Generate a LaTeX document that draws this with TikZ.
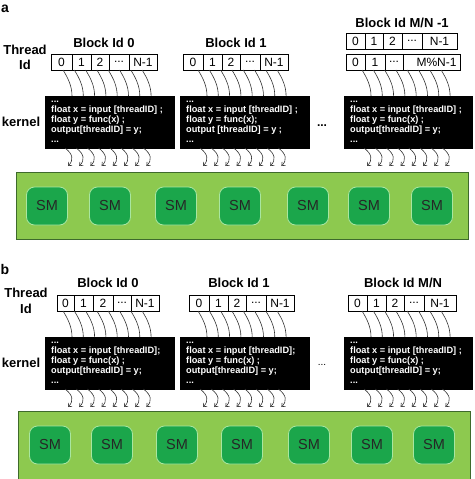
\documentclass[tikz,border=0pt]{standalone}
\usepackage{fontspec}
\setmainfont{Liberation Sans}
\usetikzlibrary{arrows.meta,calc}
\definecolor{busfill}{HTML}{8DC94F}
\definecolor{busdraw}{HTML}{3E6A2C}
\definecolor{smfill}{HTML}{1BA64B}
\definecolor{smdraw}{HTML}{A8E6A0}
\definecolor{wirec}{HTML}{333333}
\tikzset{
  cell/.style={draw=black, line width=0.8pt, inner sep=0pt, outer sep=0pt, minimum height=16pt, anchor=north west, font=\fontsize{12}{13}\selectfont},
  kernelbox/.style={fill=black, draw=black, inner sep=0pt, outer sep=0pt, minimum width=129pt, minimum height=52pt, anchor=north west},
  codetext/.style={text=white, font=\fontsize{9.2}{10}\selectfont\bfseries, align=left, inner sep=0pt, anchor=west},
  titletext/.style={font=\fontsize{13}{14}\selectfont\bfseries, inner sep=0pt},
  paneltext/.style={font=\fontsize{14}{16}\selectfont\bfseries, inner sep=0pt},
  smbox/.style={fill=smfill, draw=smdraw, line width=0.8pt, rounded corners=8pt, minimum width=41pt, minimum height=38pt, inner sep=0pt, font=\fontsize{14.5}{16}\selectfont, text=black!85},
  bus/.style={fill=busfill, draw=busdraw, line width=1pt, anchor=north west, inner sep=0pt, minimum width=452pt},
  wire/.style={draw=wirec, line width=0.6pt},
  wirearrow/.style={wire, -{Straight Barb[length=3pt,width=5pt]}}
}
\newcommand\fivecells[8]{% name, x, y, w0..w4
  \node[cell, minimum width=#4pt] (#1c0) at (#2,#3) {0};
  \node[cell, minimum width=#5pt] (#1c1) at (#1c0.north east) {1};
  \node[cell, minimum width=#6pt] (#1c2) at (#1c1.north east) {2};
  \node[cell, minimum width=#7pt] (#1c3) at (#1c2.north east) {...};
  \node[cell, minimum width=#8pt] (#1c4) at (#1c3.north east) {N-1};
}
\newcommand\kernelnode[5]{% name, x, y, width, code
  \node[kernelbox, minimum width=#4pt] (#1) at (#2,#3) {};
  \node[codetext] (#1code) at ($(#1.west)+(6,0)$) {#5};
}
\newcommand\wires[6]{% prefix, kernel left x, top y, kernel top y, kernel bottom y, tip y
  \foreach \i in {0,...,7}{
    \pgfmathsetmacro\xa{#2+18+11.3*\i}
    \pgfmathsetmacro\xb{#2+20+11.2*\i}
    \coordinate (#1s\i) at (\xa,#3);
    \coordinate (#1e\i) at (\xa+9,#4);
    \coordinate (#1b\i) at (\xb,#5);
    \coordinate (#1p\i) at (\xb+3,#6);
    \draw[wire] (#1s\i) .. controls +(5,8) and +(0,-10) .. (#1e\i);
    \draw[wirearrow] (#1b\i) .. controls +(8,6) and +(6,-6) .. (#1p\i);
  }
}
\begin{document}
\begin{tikzpicture}[x=1pt,y=-1pt]
\useasboundingbox (0,0) rectangle (474,479);
\begin{scope}
\clip (0,0) rectangle (474,479);
% ---------------- panel a ----------------
\node[paneltext] (la) at (5,9) {a};
\node[titletext] (tha) at (25,50) {Thread};
\node[titletext] (ida) at (25,65) {Id};
\node[titletext] (kea) at (21,122) {kernel};

\node[titletext] (ba0) at (104,43) {Block Id 0};
\node[titletext] (ba1) at (236,43) {Block Id 1};
\node[titletext] (ba2) at (402,23) {Block Id M/N -1};

\fivecells{ta0}{51}{54}{21}{19}{18}{20}{28}
\fivecells{ta1}{183}{54}{20}{19}{18}{20}{28}
\fivecells{ta2}{346}{33}{19}{18}{19}{20}{35}
\node[cell, minimum width=19pt] (tb2c0) at (346,54) {0};
\node[cell, minimum width=20pt] (tb2c1) at (tb2c0.north east) {1};
\node[cell, minimum width=18pt] (tb2c2) at (tb2c1.north east) {...};
\node[cell, minimum width=57pt] (tb2c3) at (tb2c2.north east) {\hspace*{10pt}M\%N-1};

\kernelnode{ka0}{45}{96}{129}{...\\float x = input [threadID] ;\\float y = func(x) ;\\output[threadID] = y;\\...}
\kernelnode{ka1}{180}{96}{129}{...\\float x = input [threadID] ;\\float y = func(x);\\output [threadID] = y ;\\...}
\kernelnode{ka2}{344}{96}{128}{...\\float x = input [threadID] ;\\float y = func(x) ;\\output[threadID] = y;\\...}
\node[font=\fontsize{12}{14}\selectfont\bfseries] (dotsa) at (322,126) {...};

\wires{wa0}{45}{70}{96}{148}{166}
\wires{wa1}{180}{70}{96}{148}{166}
\wires{wa2}{344}{70}{96}{148}{166}

\node[bus, minimum height=67pt] (busa) at (16,172) {};
\foreach \x [count=\k] in {47,110,176,240,308,369,432}{
  \node[smbox] (sma\k) at (\x,206) {SM};
}

% ---------------- panel b ----------------
\node[paneltext] (lb) at (5,269) {b};
\node[titletext] (thb) at (26,293) {Thread};
\node[titletext] (idb) at (26,309) {Id};
\node[titletext] (keb) at (21,363) {kernel};

\node[titletext] (bb0) at (108,283) {Block Id 0};
\node[titletext] (bb1) at (239,283) {Block Id 1};
\node[titletext] (bb2) at (403,283) {Block Id M/N};

\fivecells{tc0}{57}{295}{17}{19}{20}{18}{28}
\fivecells{tc1}{189}{295}{20}{19}{18}{20}{28}
\fivecells{tc2}{348}{295}{19}{19}{18}{20}{32}

\kernelnode{kb0}{45}{337}{129}{...\\float x = input [threadID];\\float y = func(x) ;\\output[threadID] = y;\\...}
\kernelnode{kb1}{180}{337}{129}{...\\float x = input [threadID];\\float y = func(x) ;\\output[threadID] = y;\\...}
\kernelnode{kb2}{344}{337}{128}{...\\float x = input [threadID] ;\\float y = func(x) ;\\output[threadID] = y;\\...}
\node[font=\fontsize{10}{12}\selectfont] (dotsb) at (322,365) {...};

\wires{wb0}{45}{311}{337}{389}{407}
\wires{wb1}{180}{311}{337}{389}{407}
\wires{wb2}{344}{311}{337}{389}{407}

\node[bus, minimum height=80pt] (busb) at (18,411) {};
\foreach \x [count=\k] in {50,112,177,242,309,372,434}{
  \node[smbox] (smb\k) at (\x,445) {SM};
}
\end{scope}
\end{tikzpicture}
\end{document}
